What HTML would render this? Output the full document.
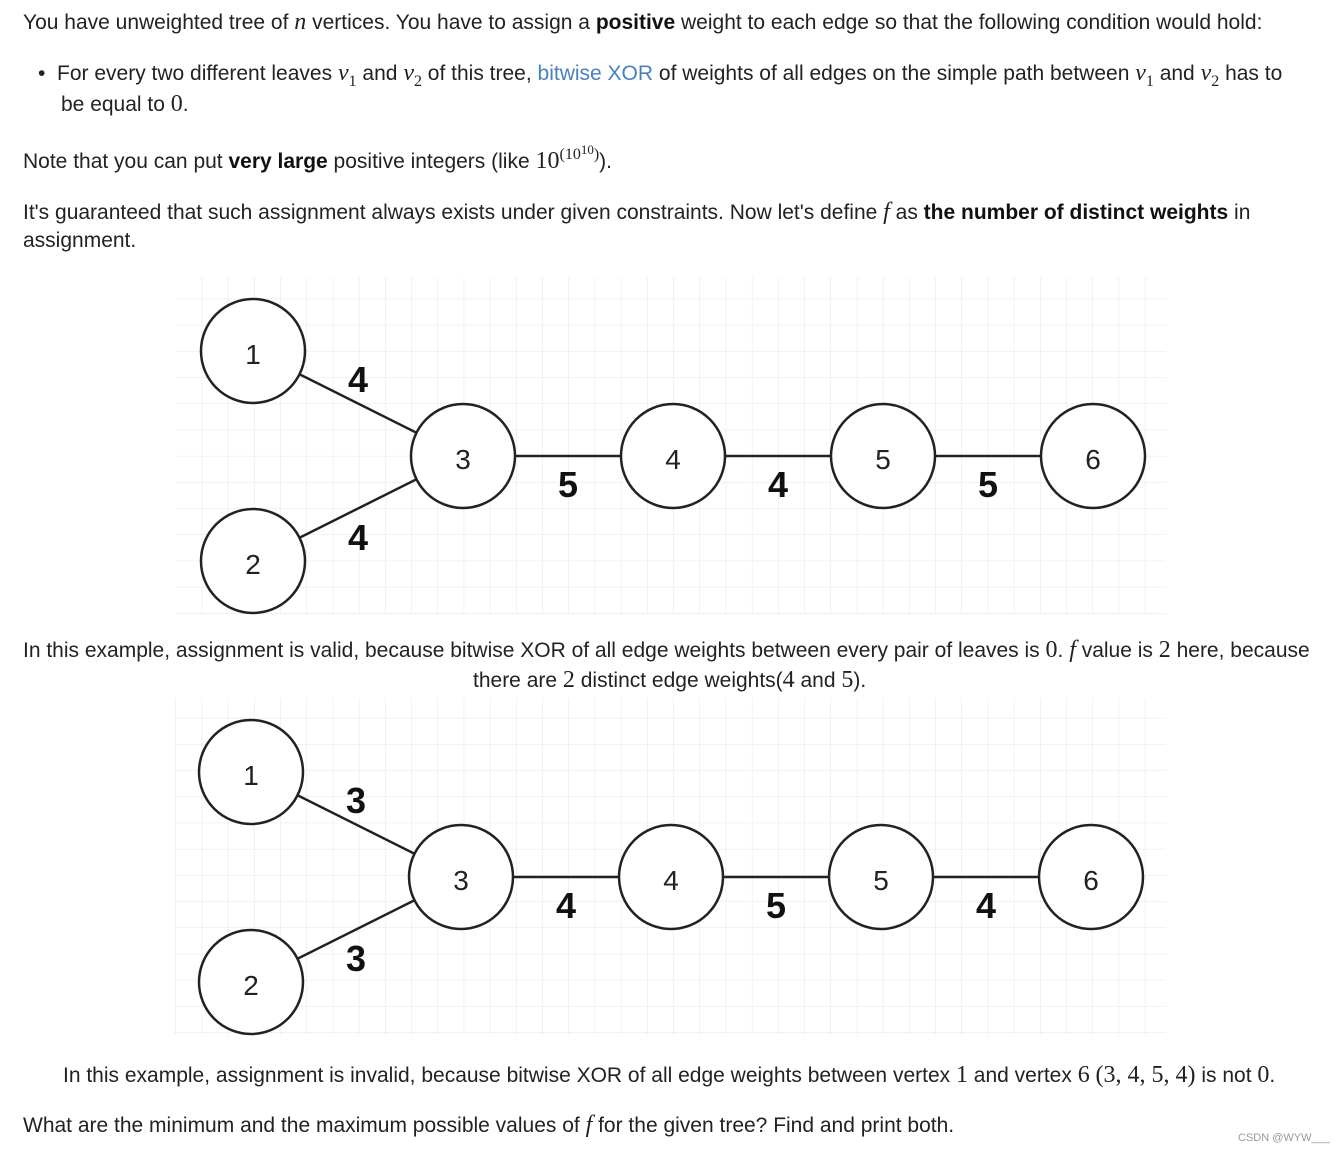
<!DOCTYPE html>
<html><head><meta charset="utf-8"><style>
body{margin:0;width:1342px;height:1152px;background:#fff;font-family:"Liberation Sans",sans-serif;font-size:21px;color:#222;position:relative;overflow:hidden}
.t{position:absolute;white-space:nowrap;line-height:24px;height:24px}
.m{font-family:"Liberation Serif",serif;font-style:italic;font-size:24px}
.n{font-family:"Liberation Serif",serif;font-size:24px}
.s{font-family:"Liberation Serif",serif;font-size:16px;position:relative;top:6px}
.p{font-family:"Liberation Serif",serif;font-size:16px;position:relative;top:-9px}
b{font-weight:bold;color:#111}
a{color:#4a7fc1;text-decoration:none}
svg{position:absolute;left:0;top:0}
</style></head><body>
<div class="t" style="left:23px;top:10px">You have unweighted tree of <span class="m">n</span> vertices. You have to assign a <b>positive</b> weight to each edge so that the following condition would hold:</div>
<div class="t" style="left:38px;top:61px">•&nbsp; For every two different leaves <span class="m">v</span><span class="s">1</span> and <span class="m">v</span><span class="s">2</span> of this tree, <a>bitwise XOR</a> of weights of all edges on the simple path between <span class="m">v</span><span class="s">1</span> and <span class="m">v</span><span class="s">2</span> has to</div>
<div class="t" style="left:61px;top:92px">be equal to <span class="n">0</span>.</div>
<div class="t" style="left:23px;top:149px">Note that you can put <b>very large</b> positive integers (like <span class="n">10</span><span class="p">(10<span style="font-size:13px;position:relative;top:-5px">10</span>)</span>).</div>
<div class="t" style="left:23px;top:200px">It's guaranteed that such assignment always exists under given constraints. Now let's define <span class="m">f</span> as <b>the number of distinct weights</b> in</div>
<div class="t" style="left:23px;top:229px">assignment.</div>
<div class="t" style="left:23px;top:638px">In this example, assignment is valid, because bitwise XOR of all edge weights between every pair of leaves is <span class="n">0</span>. <span class="m">f</span> value is <span class="n">2</span> here, because</div>
<div class="t" style="left:473px;top:668px">there are <span class="n">2</span> distinct edge weights(<span class="n">4</span> and <span class="n">5</span>).</div>
<div class="t" style="left:63px;top:1063px">In this example, assignment is invalid, because bitwise XOR of all edge weights between vertex <span class="n">1</span> and vertex <span class="n">6</span> <span class="n">(3, 4, 5, 4)</span> is not <span class="n">0</span>.</div>
<div class="t" style="left:23px;top:1113px">What are the minimum and the maximum possible values of <span class="m">f</span> for the given tree? Find and print both.</div>
<div class="t" style="left:1238px;top:1126px;font-size:11px;color:#999">CSDN @WYW___</div>
<svg width="1342" height="1152" viewBox="0 0 1342 1152">
<defs>
<pattern id="g" width="26.2" height="26.2" patternUnits="userSpaceOnUse" x="176" y="273">
<path d="M26.2 0V26.2H0" fill="none" stroke="#e6e6e6" stroke-width="1"/>
</pattern>
<g id="d">
<line x1="253" y1="351" x2="463" y2="456" stroke="#222" stroke-width="2.5"/>
<line x1="253" y1="561" x2="463" y2="456" stroke="#222" stroke-width="2.5"/>
<line x1="463" y1="456" x2="1093" y2="456" stroke="#222" stroke-width="2.5"/>
<g fill="#fff" stroke="#222" stroke-width="2.5">
<circle cx="253" cy="351" r="52"/><circle cx="253" cy="561" r="52"/><circle cx="463" cy="456" r="52"/>
<circle cx="673" cy="456" r="52"/><circle cx="883" cy="456" r="52"/><circle cx="1093" cy="456" r="52"/>
</g>
<g font-family="Liberation Sans" font-size="28" fill="#222" text-anchor="middle">
<text x="253" y="364">1</text><text x="253" y="574">2</text><text x="463" y="469">3</text>
<text x="673" y="469">4</text><text x="883" y="469">5</text><text x="1093" y="469">6</text>
</g>
</g>
</defs>
<rect x="176" y="277" width="990" height="337" fill="url(#g)"/>
<use href="#d"/>
<g font-family="Liberation Sans" font-size="36" font-weight="bold" fill="#111" text-anchor="middle">
<text x="358" y="392">4</text><text x="358" y="550">4</text><text x="568" y="497">5</text><text x="778" y="497">4</text><text x="988" y="497">5</text>
</g>
<rect x="174" y="698" width="992" height="337" fill="url(#g)"/>
<use href="#d" transform="translate(-2,421)"/>
<g font-family="Liberation Sans" font-size="36" font-weight="bold" fill="#111" text-anchor="middle">
<text x="356" y="813">3</text><text x="356" y="971">3</text><text x="566" y="918">4</text><text x="776" y="918">5</text><text x="986" y="918">4</text>
</g>
</svg>
</body></html>
